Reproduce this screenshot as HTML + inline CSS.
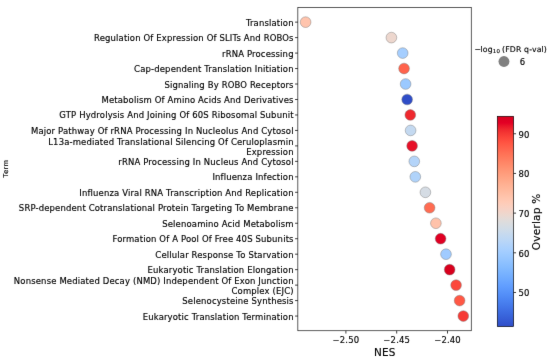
<!DOCTYPE html>
<html lang="en"><head><meta charset="utf-8"><title>GSEA dotplot</title>
<style>html,body{margin:0;padding:0;background:#fff;}svg{display:block;}</style></head>
<body>
<svg width="550" height="360" viewBox="0 0 550 360" font-family="'DejaVu Sans', 'Liberation Sans', sans-serif" fill="#000">
<rect width="550" height="360" fill="#fff"/>
<defs><filter id="soft" x="-2%" y="-2%" width="104%" height="104%" color-interpolation-filters="sRGB"><feConvolveMatrix order="3" kernelMatrix="0.005 0.055 0.005 0.055 0.76 0.055 0.005 0.055 0.005" divisor="1" edgeMode="duplicate" preserveAlpha="false"/></filter><linearGradient id="cw" x1="0" y1="0" x2="0" y2="1"><stop offset="0.0000" stop-color="#d8001d"/><stop offset="0.0156" stop-color="#dd0021"/><stop offset="0.0312" stop-color="#e30025"/><stop offset="0.0469" stop-color="#e91629"/><stop offset="0.0625" stop-color="#ef282e"/><stop offset="0.0781" stop-color="#f43533"/><stop offset="0.0938" stop-color="#f94038"/><stop offset="0.1094" stop-color="#fd4a3d"/><stop offset="0.1250" stop-color="#ff5442"/><stop offset="0.1406" stop-color="#ff5d48"/><stop offset="0.1562" stop-color="#ff654e"/><stop offset="0.1719" stop-color="#ff6e54"/><stop offset="0.1875" stop-color="#ff7659"/><stop offset="0.2031" stop-color="#ff7d60"/><stop offset="0.2188" stop-color="#ff8566"/><stop offset="0.2344" stop-color="#ff8c6c"/><stop offset="0.2500" stop-color="#ff9373"/><stop offset="0.2656" stop-color="#ff9a79"/><stop offset="0.2812" stop-color="#ffa080"/><stop offset="0.2969" stop-color="#ffa686"/><stop offset="0.3125" stop-color="#ffac8d"/><stop offset="0.3281" stop-color="#ffb294"/><stop offset="0.3438" stop-color="#ffb79a"/><stop offset="0.3594" stop-color="#ffbca1"/><stop offset="0.3750" stop-color="#ffc1a8"/><stop offset="0.3906" stop-color="#ffc6af"/><stop offset="0.4062" stop-color="#ffcab5"/><stop offset="0.4219" stop-color="#fccebc"/><stop offset="0.4375" stop-color="#f8d1c3"/><stop offset="0.4531" stop-color="#f2d4c9"/><stop offset="0.4688" stop-color="#ecd8cf"/><stop offset="0.4844" stop-color="#e5dad6"/><stop offset="0.5000" stop-color="#dedcdc"/><stop offset="0.5156" stop-color="#d8dce1"/><stop offset="0.5312" stop-color="#d2dce6"/><stop offset="0.5469" stop-color="#ccdbeb"/><stop offset="0.5625" stop-color="#c5d9ef"/><stop offset="0.5781" stop-color="#bfd8f3"/><stop offset="0.5938" stop-color="#b9d6f7"/><stop offset="0.6094" stop-color="#b2d3fa"/><stop offset="0.6250" stop-color="#abd1fd"/><stop offset="0.6406" stop-color="#a5ceff"/><stop offset="0.6562" stop-color="#9ecbff"/><stop offset="0.6719" stop-color="#98c7ff"/><stop offset="0.6875" stop-color="#91c3ff"/><stop offset="0.7031" stop-color="#8abfff"/><stop offset="0.7188" stop-color="#84bbff"/><stop offset="0.7344" stop-color="#7db6ff"/><stop offset="0.7500" stop-color="#77b1ff"/><stop offset="0.7656" stop-color="#71acff"/><stop offset="0.7812" stop-color="#6ba7ff"/><stop offset="0.7969" stop-color="#65a1ff"/><stop offset="0.8125" stop-color="#5f9cfe"/><stop offset="0.8281" stop-color="#5a96fb"/><stop offset="0.8438" stop-color="#5590f9"/><stop offset="0.8594" stop-color="#508af5"/><stop offset="0.8750" stop-color="#4b83f2"/><stop offset="0.8906" stop-color="#477ded"/><stop offset="0.9062" stop-color="#4376e9"/><stop offset="0.9219" stop-color="#3f6fe4"/><stop offset="0.9375" stop-color="#3b69df"/><stop offset="0.9531" stop-color="#3862d9"/><stop offset="0.9688" stop-color="#355bd4"/><stop offset="0.9844" stop-color="#3254ce"/><stop offset="1.0000" stop-color="#2f4dc7"/></linearGradient></defs>
<g filter="url(#soft)">
<g stroke="#7a7a7a" stroke-width="0.45">
<circle cx="305.60" cy="22.14" r="5.35" fill="#ffc4ad"/>
<circle cx="391.40" cy="37.61" r="5.35" fill="#edd7ce"/>
<circle cx="402.70" cy="53.08" r="5.35" fill="#a5ceff"/>
<circle cx="404.05" cy="68.55" r="5.35" fill="#ff634c"/>
<circle cx="405.60" cy="84.02" r="5.35" fill="#9bc9ff"/>
<circle cx="407.15" cy="99.49" r="5.35" fill="#2f4dc7"/>
<circle cx="410.30" cy="114.96" r="5.35" fill="#ef282e"/>
<circle cx="410.60" cy="130.43" r="5.35" fill="#c4d9f0"/>
<circle cx="412.10" cy="145.90" r="5.35" fill="#e71028"/>
<circle cx="414.30" cy="161.37" r="5.35" fill="#b4d4f9"/>
<circle cx="415.30" cy="176.84" r="5.35" fill="#b0d3fa"/>
<circle cx="425.40" cy="192.30" r="5.35" fill="#d5dce4"/>
<circle cx="429.60" cy="207.77" r="5.35" fill="#ff6c52"/>
<circle cx="435.90" cy="223.24" r="5.35" fill="#ffc2aa"/>
<circle cx="440.60" cy="238.71" r="5.35" fill="#e00023"/>
<circle cx="446.00" cy="254.18" r="5.35" fill="#a0cbff"/>
<circle cx="449.65" cy="269.65" r="5.35" fill="#d8001d"/>
<circle cx="456.10" cy="285.12" r="5.35" fill="#fc483c"/>
<circle cx="459.60" cy="300.59" r="5.35" fill="#ff5845"/>
<circle cx="463.30" cy="316.06" r="5.35" fill="#f63a35"/>
</g>
<g stroke="#000" stroke-width="0.64" fill="none">
<rect x="297.85" y="7.45" width="173.39999999999998" height="323.3"/>
<line x1="295.05" y1="22.14" x2="297.85" y2="22.14" stroke-width="0.75"/>
<line x1="295.05" y1="37.61" x2="297.85" y2="37.61" stroke-width="0.75"/>
<line x1="295.05" y1="53.08" x2="297.85" y2="53.08" stroke-width="0.75"/>
<line x1="295.05" y1="68.55" x2="297.85" y2="68.55" stroke-width="0.75"/>
<line x1="295.05" y1="84.02" x2="297.85" y2="84.02" stroke-width="0.75"/>
<line x1="295.05" y1="99.49" x2="297.85" y2="99.49" stroke-width="0.75"/>
<line x1="295.05" y1="114.96" x2="297.85" y2="114.96" stroke-width="0.75"/>
<line x1="295.05" y1="130.43" x2="297.85" y2="130.43" stroke-width="0.75"/>
<line x1="295.05" y1="145.90" x2="297.85" y2="145.90" stroke-width="0.75"/>
<line x1="295.05" y1="161.37" x2="297.85" y2="161.37" stroke-width="0.75"/>
<line x1="295.05" y1="176.84" x2="297.85" y2="176.84" stroke-width="0.75"/>
<line x1="295.05" y1="192.30" x2="297.85" y2="192.30" stroke-width="0.75"/>
<line x1="295.05" y1="207.77" x2="297.85" y2="207.77" stroke-width="0.75"/>
<line x1="295.05" y1="223.24" x2="297.85" y2="223.24" stroke-width="0.75"/>
<line x1="295.05" y1="238.71" x2="297.85" y2="238.71" stroke-width="0.75"/>
<line x1="295.05" y1="254.18" x2="297.85" y2="254.18" stroke-width="0.75"/>
<line x1="295.05" y1="269.65" x2="297.85" y2="269.65" stroke-width="0.75"/>
<line x1="295.05" y1="285.12" x2="297.85" y2="285.12" stroke-width="0.75"/>
<line x1="295.05" y1="300.59" x2="297.85" y2="300.59" stroke-width="0.75"/>
<line x1="295.05" y1="316.06" x2="297.85" y2="316.06" stroke-width="0.75"/>
<line x1="345.9" y1="330.75" x2="345.9" y2="333.55" stroke-width="0.75"/>
<line x1="396.7" y1="330.75" x2="396.7" y2="333.55" stroke-width="0.75"/>
<line x1="447.5" y1="330.75" x2="447.5" y2="333.55" stroke-width="0.75"/>
</g>
<g stroke="#000" stroke-width="0.15" stroke-linejoin="round">
<text transform="translate(293.67,25.64) scale(1,1.0001)" font-size="8.48" text-anchor="end" letter-spacing="0.150">Translation</text>
<text transform="translate(293.67,41.11) scale(1,1.0001)" font-size="8.48" text-anchor="end" letter-spacing="0.150">Regulation Of Expression Of SLITs And ROBOs</text>
<text transform="translate(293.67,56.58) scale(1,1.0001)" font-size="8.48" text-anchor="end" letter-spacing="0.150">rRNA Processing</text>
<text transform="translate(293.67,72.05) scale(1,1.0001)" font-size="8.48" text-anchor="end" letter-spacing="0.150">Cap-dependent Translation Initiation</text>
<text transform="translate(293.67,87.52) scale(1,1.0001)" font-size="8.48" text-anchor="end" letter-spacing="0.150">Signaling By ROBO Receptors</text>
<text transform="translate(293.67,102.99) scale(1,1.0001)" font-size="8.48" text-anchor="end" letter-spacing="0.150">Metabolism Of Amino Acids And Derivatives</text>
<text transform="translate(293.67,118.46) scale(1,1.0001)" font-size="8.48" text-anchor="end" letter-spacing="0.150">GTP Hydrolysis And Joining Of 60S Ribosomal Subunit</text>
<text transform="translate(293.67,133.93) scale(1,1.0001)" font-size="8.48" text-anchor="end" letter-spacing="0.150">Major Pathway Of rRNA Processing In Nucleolus And Cytosol</text>
<text transform="translate(293.67,145.00) scale(1,1.0001)" font-size="8.48" text-anchor="end" letter-spacing="0.150">L13a-mediated Translational Silencing Of Ceruloplasmin</text>
<text transform="translate(293.67,154.70) scale(1,1.0001)" font-size="8.48" text-anchor="end" letter-spacing="0.150">Expression</text>
<text transform="translate(293.67,164.87) scale(1,1.0001)" font-size="8.48" text-anchor="end" letter-spacing="0.150">rRNA Processing In Nucleus And Cytosol</text>
<text transform="translate(293.67,180.34) scale(1,1.0001)" font-size="8.48" text-anchor="end" letter-spacing="0.150">Influenza Infection</text>
<text transform="translate(293.67,195.80) scale(1,1.0001)" font-size="8.48" text-anchor="end" letter-spacing="0.150">Influenza Viral RNA Transcription And Replication</text>
<text transform="translate(293.67,211.27) scale(1,1.0001)" font-size="8.48" text-anchor="end" letter-spacing="0.150">SRP-dependent Cotranslational Protein Targeting To Membrane</text>
<text transform="translate(293.67,226.74) scale(1,1.0001)" font-size="8.48" text-anchor="end" letter-spacing="0.150">Selenoamino Acid Metabolism</text>
<text transform="translate(293.67,242.21) scale(1,1.0001)" font-size="8.48" text-anchor="end" letter-spacing="0.150">Formation Of A Pool Of Free 40S Subunits</text>
<text transform="translate(293.67,257.68) scale(1,1.0001)" font-size="8.48" text-anchor="end" letter-spacing="0.150">Cellular Response To Starvation</text>
<text transform="translate(293.67,273.15) scale(1,1.0001)" font-size="8.48" text-anchor="end" letter-spacing="0.150">Eukaryotic Translation Elongation</text>
<text transform="translate(293.67,284.22) scale(1,1.0001)" font-size="8.48" text-anchor="end" letter-spacing="0.150">Nonsense Mediated Decay (NMD) Independent Of Exon Junction</text>
<text transform="translate(293.67,293.92) scale(1,1.0001)" font-size="8.48" text-anchor="end" letter-spacing="0.150">Complex (EJC)</text>
<text transform="translate(293.67,304.09) scale(1,1.0001)" font-size="8.48" text-anchor="end" letter-spacing="0.150">Selenocysteine Synthesis</text>
<text transform="translate(293.67,319.56) scale(1,1.0001)" font-size="8.48" text-anchor="end" letter-spacing="0.150">Eukaryotic Translation Termination</text>
<text transform="translate(345.90,343.30) scale(1,1.0001)" font-size="8.48" text-anchor="middle" letter-spacing="0.150">−2.50</text>
<text transform="translate(396.70,343.30) scale(1,1.0001)" font-size="8.48" text-anchor="middle" letter-spacing="0.150">−2.45</text>
<text transform="translate(447.50,343.30) scale(1,1.0001)" font-size="8.48" text-anchor="middle" letter-spacing="0.150">−2.40</text>
<text transform="translate(384.75,356.10) scale(1,1.0001)" font-size="10.45" text-anchor="middle" letter-spacing="0.185">NES</text>
<text transform="translate(8.45,168.90) rotate(-90) scale(1,1.0001)" font-size="6.7" text-anchor="middle" letter-spacing="0.119" style="font-kerning:none">Term</text>
<text transform="translate(474.40,52.00) scale(1,1.0001)" font-size="7.77" text-anchor="start" letter-spacing="0.138">−<tspan dx="-0.6">log</tspan><tspan dy="1.0" dx="0.15" font-size="5.44">10</tspan><tspan dy="-1.0" dx="2.0">(FDR q-val)</tspan></text>
<text transform="translate(519.80,64.50) scale(1,1.0001)" font-size="8.48" text-anchor="start" letter-spacing="0.150">6</text>
<text transform="translate(518.43,296.23) scale(1,1.0001)" font-size="8.48" text-anchor="start" letter-spacing="0.150">50</text>
<text transform="translate(518.43,256.55) scale(1,1.0001)" font-size="8.48" text-anchor="start" letter-spacing="0.150">60</text>
<text transform="translate(518.43,216.87) scale(1,1.0001)" font-size="8.48" text-anchor="start" letter-spacing="0.150">70</text>
<text transform="translate(518.43,177.19) scale(1,1.0001)" font-size="8.48" text-anchor="start" letter-spacing="0.150">80</text>
<text transform="translate(518.43,137.51) scale(1,1.0001)" font-size="8.48" text-anchor="start" letter-spacing="0.150">90</text>
<text transform="translate(540.15,221.95) rotate(-90) scale(1,1.0001)" font-size="10.62" text-anchor="middle" letter-spacing="0.188">Overlap %</text>
</g>
<circle cx="503.95" cy="61.5" r="5.45" fill="#808080"/>
<rect x="497.3" y="116.3" width="16.35" height="210.30" fill="url(#cw)" stroke="#000" stroke-width="0.64"/>
<g stroke="#000" stroke-width="0.64">
<line x1="513.65" y1="292.48" x2="516.05" y2="292.48" stroke-width="0.75"/>
<line x1="513.65" y1="252.80" x2="516.05" y2="252.80" stroke-width="0.75"/>
<line x1="513.65" y1="213.12" x2="516.05" y2="213.12" stroke-width="0.75"/>
<line x1="513.65" y1="173.44" x2="516.05" y2="173.44" stroke-width="0.75"/>
<line x1="513.65" y1="133.76" x2="516.05" y2="133.76" stroke-width="0.75"/>
</g>
</g>
</svg>
</body></html>
